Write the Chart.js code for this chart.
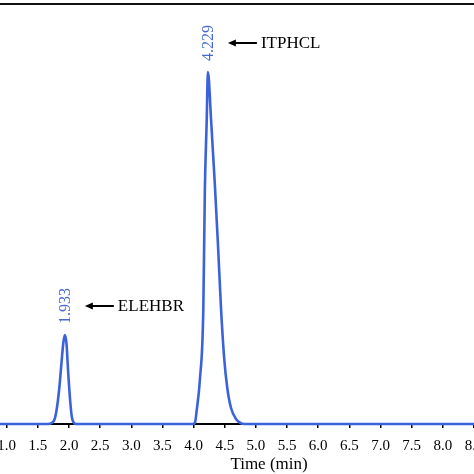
<!DOCTYPE html>
<html lang="en">

<head>
    <meta charset="UTF-8">
    <title>Chromatogram</title>
    <script src="https://cdn.jsdelivr.net/npm/chart.js@4.4.0/dist/chart.umd.min.js"></script>
    <style>
        body { margin: 0; background: #fff; }
        #wrap { width: 474px; height: 474px; }
    </style>
</head>

<body>
    <div id="wrap">
        <canvas id="chart"></canvas>
    </div>

    <script>
        // retention time (min) and detector signal
        const time = [0.89, 1.66, 1.72, 1.77, 1.81, 1.85, 1.88, 1.91, 1.933, 1.96, 1.984, 2.02, 2.045, 2.07, 2.11,
            3.986, 4.02, 4.05, 4.10, 4.155, 4.18, 4.21, 4.229, 4.28, 4.34, 4.39, 4.44, 4.49, 4.54, 4.60, 4.68, 4.82, 8.5];
        const signal = [0, 0, 1, 5, 18, 40, 62, 82, 89, 80, 54, 22, 7, 2, 0,
            0, 1, 14, 44, 114, 234, 304, 352, 304, 240, 180, 115, 66, 36, 16, 5, 0, 0];

        // labelled peaks
        const peakTimes = [1.933, 4.229];
        const peakHeights = [89, 352];
        const peakLabels = ['1.933', '4.229'];
        const peakNames = ['ELEHBR', 'ITPHCL'];

        const xTitle = 'Time (min)';

        const blue = '#3a62dc';
        const serif = '"Liberation Serif", "DejaVu Serif", serif';

        const points = time.map((t, i) => ({ x: t, y: signal[i] }));

        const extras = {
            id: 'extras',
            afterDraw(chart) {
                const ctx = chart.ctx;
                const xs = chart.scales.x;
                const ys = chart.scales.y;
                const area = chart.chartArea;
                ctx.save();

                // frame line along the top
                ctx.fillStyle = '#111';
                ctx.fillRect(0, area.top - 1, chart.width, 2);

                // peak labels and arrows
                peakTimes.forEach((t, i) => {
                    const px = xs.getPixelForValue(t);
                    const top = ys.getPixelForValue(peakHeights[i]);
                    const cy = top - 10 - 19;

                    ctx.save();
                    ctx.translate(px, cy);
                    ctx.rotate(-Math.PI / 2);
                    ctx.font = '16px ' + serif;
                    ctx.fillStyle = '#4668d2';
                    ctx.textAlign = 'center';
                    ctx.textBaseline = 'middle';
                    ctx.fillText(peakLabels[i], 0, 1);
                    ctx.restore();

                    // arrow
                    ctx.strokeStyle = '#000';
                    ctx.fillStyle = '#000';
                    ctx.lineWidth = 2;
                    ctx.beginPath();
                    ctx.moveTo(px + 26, cy);
                    ctx.lineTo(px + 49, cy);
                    ctx.stroke();
                    ctx.beginPath();
                    ctx.moveTo(px + 20, cy);
                    ctx.lineTo(px + 28, cy - 3.5);
                    ctx.lineTo(px + 28, cy + 3.5);
                    ctx.closePath();
                    ctx.fill();

                    ctx.font = '17px ' + serif;
                    ctx.textAlign = 'left';
                    ctx.textBaseline = 'middle';
                    ctx.fillText(peakNames[i], px + 53, cy + 1);
                });

                // axis title
                ctx.font = '17px ' + serif;
                ctx.fillStyle = '#000';
                ctx.textAlign = 'center';
                ctx.textBaseline = 'middle';
                ctx.fillText(xTitle, xs.getPixelForValue(5.21), 465);
                ctx.restore();
            }
        };

        new Chart(document.getElementById('chart'), {
            type: 'line',
            data: {
                datasets: [{
                    data: points,
                    borderColor: blue,
                    borderWidth: 2.6,
                    pointRadius: 0,
                    cubicInterpolationMode: 'monotone',
                    fill: false,
                    clip: false
                }]
            },
            options: {
                animation: false,
                responsive: true,
                maintainAspectRatio: false,
                layout: { padding: { top: 4, left: 0, right: 0, bottom: 0 }, autoPadding: false },
                plugins: { legend: { display: false }, tooltip: { enabled: false } },
                scales: {
                    x: {
                        type: 'linear',
                        min: 0.892,
                        max: 8.5,
                        afterFit: (scale) => {
                            scale.height = 50;
                            scale.paddingLeft = 0;
                            scale.paddingRight = 0;
                        },
                        border: { color: '#000', width: 2 },
                        grid: { drawOnChartArea: false, tickLength: 4, color: '#000', lineWidth: 1.5 },
                        ticks: {
                            stepSize: 0.5,
                            includeBounds: false,
                            autoSkip: false,
                            maxRotation: 0,
                            padding: 9,
                            color: '#000',
                            font: { family: serif, size: 15 },
                            callback: (v) => v.toFixed(1)
                        }
                    },
                    y: {
                        display: false,
                        min: 0,
                        max: 420
                    }
                }
            },
            plugins: [extras]
        });
    </script>

</body>

</html>
